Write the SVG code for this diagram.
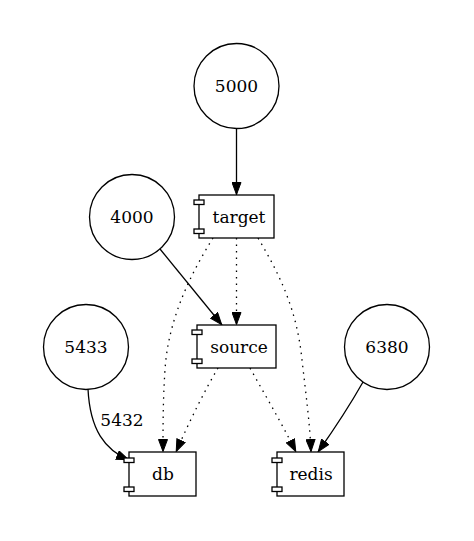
<svg xmlns="http://www.w3.org/2000/svg" width="474" height="541" viewBox="0 0 474 541">
<defs>
<marker id="ah" viewBox="0 0 13 10" refX="13" refY="5" markerWidth="13" markerHeight="10" markerUnits="userSpaceOnUse" orient="auto">
<path d="M0.5,0.5 L12.5,5 L0.5,9.5 Z" fill="#000" stroke="#000" stroke-width="1"/>
</marker>
<style>
.n{fill:#fff;stroke:#000;stroke-width:1.3}
.t{font-family:"DejaVu Serif",serif;font-size:17px;text-anchor:middle;dominant-baseline:central;fill:#000}
.e{fill:none;stroke:#000;stroke-width:1.3;marker-end:url(#ah)}
.d{stroke-dasharray:1.5,5}
</style>
</defs>
<rect width="474" height="541" fill="#fff"/>
<g id="connectors">
<path class="e" d="M236.5,128.5 L236.5,195"/>
<path class="e" d="M160,249 L222,325"/>
<path class="e d" d="M236.5,238 L236.5,325"/>
<path class="e d" d="M213,238 C190,275 168,320 165,370 C163,400 163,425 163,452"/>
<path class="e d" d="M258,238 C280,275 297,310 302,360 C306,395 310,425 311,452"/>
<path class="e d" d="M218,368 C205,390 190,420 176,452"/>
<path class="e d" d="M250,368 C265,395 280,420 296,452"/>
<path class="e" d="M363,382 C350,405 335,428 318,452"/>
<path class="e" d="M88,389 C90,430 105,450 129,460"/>
<text class="t" x="122" y="420">5432</text>
</g>
<g id="n5000"><circle class="n" cx="236.5" cy="86" r="42.5"/><text class="t" x="236.5" y="86">5000</text></g>
<g id="n4000"><circle class="n" cx="132" cy="217" r="42.5"/><text class="t" x="132" y="217">4000</text></g>
<g id="n5433"><circle class="n" cx="86" cy="347" r="42.5"/><text class="t" x="86" y="347">5433</text></g>
<g id="n6380"><circle class="n" cx="387" cy="347" r="42.5"/><text class="t" x="387" y="347">6380</text></g>
<g id="target"><rect class="n" x="199" y="195" width="75" height="43"/><rect class="n" x="194" y="200" width="10" height="4.5"/><rect class="n" x="194" y="229" width="10" height="4.5"/><text class="t" x="239" y="216.5">target</text></g>
<g id="source"><rect class="n" x="197" y="325" width="79" height="43"/><rect class="n" x="192" y="330" width="10" height="4.5"/><rect class="n" x="192" y="359" width="10" height="4.5"/><text class="t" x="239" y="346.5">source</text></g>
<g id="db"><rect class="n" x="129" y="452" width="67" height="44"/><rect class="n" x="124" y="458" width="10" height="4.5"/><rect class="n" x="124" y="487" width="10" height="4.5"/><text class="t" x="163" y="474">db</text></g>
<g id="redis"><rect class="n" x="277" y="452" width="67" height="44"/><rect class="n" x="272" y="458" width="10" height="4.5"/><rect class="n" x="272" y="487" width="10" height="4.5"/><text class="t" x="311" y="474">redis</text></g>
</svg>
